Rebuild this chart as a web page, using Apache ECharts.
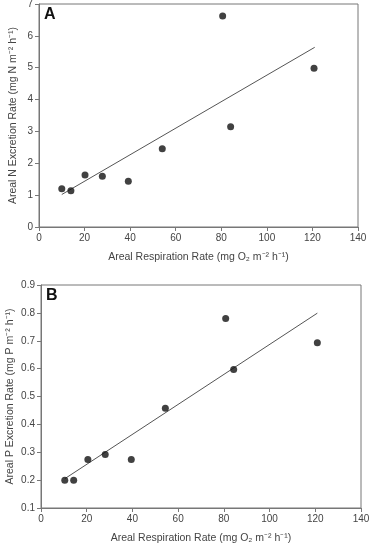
<!DOCTYPE html>
<html>
<head>
<meta charset="utf-8">
<script src="https://cdn.jsdelivr.net/npm/echarts@6/dist/echarts.min.js"></script>
<style>
html, body { margin: 0; padding: 0; background: #fff; }
#chart { width: 369px; height: 549px; }
</style>
</head>
<body>
<div id="chart"></div>
<script>
// respiration rate (x), same sites in both panels
var respA = [10, 14, 20.2, 27.8, 39.2, 54.1, 80.6, 84.1, 120.7];
var nExcretion = [1.2, 1.14, 1.63, 1.59, 1.44, 2.46, 6.62, 3.15, 4.98];
var nFitX = [10, 121];
var nFitY = [1.02, 5.64];

var respB = [10.4, 14.3, 20.5, 28.1, 39.5, 54.4, 80.8, 84.3, 120.9];
var pExcretion = [0.2, 0.2, 0.274, 0.292, 0.274, 0.458, 0.78, 0.597, 0.693];
var pFitX = [10.4, 120.9];
var pFitY = [0.205, 0.799];

var xTitle = 'Areal Respiration Rate (mg O\u2082 m\u207B\u00B2 h\u207B\u00B9)';
var yTitleA = 'Areal N Excretion Rate (mg N m\u207B\u00B2 h\u207B\u00B9)';
var yTitleB = 'Areal P Excretion Rate (mg P m\u207B\u00B2 h\u207B\u00B9)';

function pairs(xs, ys) {
	return xs.map(function (x, i) { return [x, ys[i]]; });
}

var font = 'Liberation Sans, Arial, sans-serif',
	axisCol = '#777',
	textCol = '#444';

function xAxis(gi) {
	return {
		type: 'value', gridIndex: gi, min: 0, max: 140, interval: 20,
		name: xTitle, nameLocation: 'middle', nameGap: 25, nameMoveOverlap: false,
		nameTextStyle: { fontFamily: font, fontSize: 10.5, color: textCol },
		axisLine: { show: true, lineStyle: { color: axisCol } },
		axisTick: { show: true, length: 4, lineStyle: { color: axisCol } },
		axisLabel: { fontFamily: font, fontSize: 10, color: textCol, margin: 6 },
		splitLine: { show: false }
	};
}

function yAxis(gi, min, max, step, title, gap) {
	return {
		type: 'value', gridIndex: gi, min: min, max: max, interval: step,
		name: title, nameLocation: 'middle', nameGap: gap, nameMoveOverlap: false,
		nameTextStyle: { fontFamily: font, fontSize: 10.5, color: textCol },
		axisLine: { show: true, lineStyle: { color: axisCol } },
		axisTick: { show: true, length: 4, lineStyle: { color: axisCol } },
		axisLabel: { fontFamily: font, fontSize: 10, color: textCol, margin: 6 },
		splitLine: { show: false }
	};
}

var myChart = echarts.init(document.getElementById('chart'), null, { renderer: 'canvas' });

var option = {
	backgroundColor: '#fff',
	animation: false,
	grid: [
		{ left: 39, top: 4, width: 319, height: 223, outerBoundsMode: 'none', containLabel: false, show: true, borderColor: axisCol, borderWidth: 1, backgroundColor: 'transparent' },
		{ left: 41, top: 285, width: 320, height: 223, outerBoundsMode: 'none', containLabel: false, show: true, borderColor: axisCol, borderWidth: 1, backgroundColor: 'transparent' }
	],
	xAxis: [xAxis(0), xAxis(1)],
	yAxis: [
		yAxis(0, 0, 7, 1, yTitleA, 20),
		yAxis(1, 0.1, 0.9, 0.1, yTitleB, 25)
	],
	graphic: [
		{ type: 'text', left: 44, top: 7, style: { text: 'A', font: 'bold 16px ' + font, fill: '#111' } },
		{ type: 'text', left: 46, top: 288, style: { text: 'B', font: 'bold 16px ' + font, fill: '#111' } }
	],
	series: [
		{
			type: 'line', xAxisIndex: 0, yAxisIndex: 0, data: pairs(nFitX, nFitY),
			symbol: 'none', lineStyle: { color: '#555', width: 1 }, z: 2
		},
		{
			type: 'scatter', xAxisIndex: 0, yAxisIndex: 0, data: pairs(respA, nExcretion),
			symbolSize: 7, itemStyle: { color: '#111' }, z: 3
		},
		{
			type: 'line', xAxisIndex: 1, yAxisIndex: 1, data: pairs(pFitX, pFitY),
			symbol: 'none', lineStyle: { color: '#555', width: 1 }, z: 2
		},
		{
			type: 'scatter', xAxisIndex: 1, yAxisIndex: 1, data: pairs(respB, pExcretion),
			symbolSize: 7, itemStyle: { color: '#111' }, z: 3
		}
	]
};

myChart.setOption(option);
</script>
</body>
</html>
